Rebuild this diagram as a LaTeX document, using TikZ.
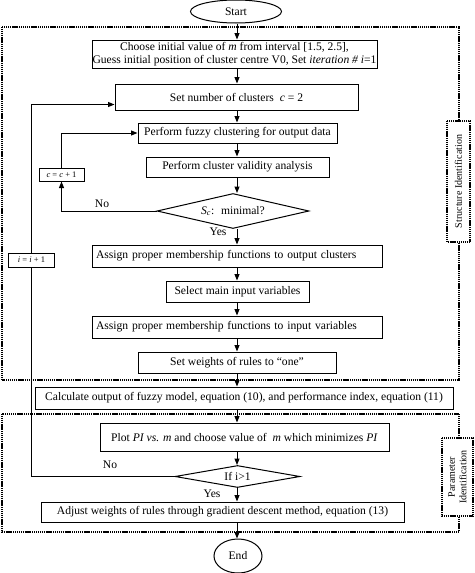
\documentclass[tikz,border=0pt]{standalone}
\usepackage{fontspec}
\setmainfont{Liberation Serif}
\usetikzlibrary{arrows.meta,shapes.geometric,calc}
\begin{document}
\begin{tikzpicture}[x=1pt,y=-1pt,
  every node/.style={font=\fontsize{11.6}{13}\selectfont, inner sep=0pt},
  box/.style={draw, rectangle, line width=1pt, align=center},
  lbox/.style={draw, rectangle, line width=1pt, align=left, text width=282, inner xsep=4pt},
  dec/.style={draw, diamond, line width=1pt},
  term/.style={draw, ellipse, line width=1pt},
  small/.style={font=\fontsize{8.5}{9}\selectfont},
  arr/.style={line width=1pt, -{Triangle[length=6.5pt,width=5pt]}},
  ln/.style={line width=1pt},
  dotbox/.style={line width=1.2pt, dash pattern=on 1.2pt off 0.7pt},
  lab/.style={font=\fontsize{10}{11.5}\selectfont}]
\useasboundingbox (0,0) rectangle (474,573);
\fill[white] (0,0) rectangle (474,573);
\coordinate (col) at (237,0);
% dotted group boxes
\draw[dotbox] (2,27) rectangle (459,380);
\draw[dotbox] (2,414) rectangle (459,532);
\node[dotbox, draw, fill=white, minimum width=121, minimum height=23, rotate=90, lab] (sid) at (458.5,181.5) {Structure Identification};
\node[dotbox, draw, fill=white, minimum width=78, minimum height=31, rotate=90, lab, align=center] (pid) at (457.5,477) {Parameter\\Identification};
% nodes
\node[term, minimum width=91, minimum height=23] (start) at (236,11.5) {Start};
\node[box, minimum width=285, minimum height=28] (b1) at (234.5,54) {Choose initial value of \textit{m} from interval [1.5, 2.5],\\Guess initial position of cluster centre V0, Set \textit{iteration \# i}=1};
\node[box, minimum width=243, minimum height=26] (b2) at (236.5,97) {Set number of clusters \ \textit{c} = 2};
\node[box, minimum width=199, minimum height=20] (b3) at (237.5,133) {Perform fuzzy clustering for output data};
\node[box, minimum width=183, minimum height=20] (b4) at (237.5,167) {Perform cluster validity analysis};
\node[dec, minimum width=152, minimum height=35, aspect=4.3] (d1) at (233,211) {\textit{S}\textsubscript{\textit{c}}: \ minimal?};
\node[lbox, minimum height=22] (b5) at (237,256) {Assign proper membership functions to output clusters};
\node[box, minimum width=143, minimum height=21] (b6) at (237.5,291.5) {Select main input variables};
\node[lbox, minimum height=22] (b7) at (237,327) {Assign proper membership functions to input variables};
\node[box, minimum width=198, minimum height=21] (b8) at (237,362.5) {Set weights of rules to “one”};
\node[box, minimum width=418, minimum height=22] (b9) at (244,398) {Calculate output of fuzzy model, equation (10), and performance index, equation (11)};
\node[box, minimum width=289, minimum height=28] (b10) at (244.5,437) {Plot \textit{PI vs.} \textit{m} and choose value of \ \textit{m} which minimizes \textit{PI}};
\node[dec, minimum width=125, minimum height=22, aspect=5.7] (d2) at (237.5,476.5) {If i\textgreater1};
\node[box, minimum width=363, minimum height=20] (b11) at (222.5,512) {Adjust weights of rules through gradient descent method, equation (13)};
\node[term, minimum width=48, minimum height=34] (end) at (238,556) {End};
\node[box, small, minimum width=45, minimum height=13] (cc) at (61.5,174.5) {\textit{c} = \textit{c} + 1};
\node[box, small, minimum width=46, minimum height=14] (ii) at (31.5,260) {\textit{i} = \textit{i} + 1};
% main column
\draw[arr] (start.south -| col) -- (b1.north -| col);
\draw[arr] (b1.south -| col) -- (b2.north -| col);
\draw[arr] (b2.south -| col) -- (b3.north -| col);
\draw[arr] (b3.south -| col) -- (b4.north -| col);
\draw[arr] (b4.south -| col) -- (d1.north -| col);
\draw[arr] (d1.south -| col) -- (b5.north -| col);
\draw[arr] (b5.south -| col) -- (b6.north -| col);
\draw[arr] (b6.south -| col) -- (b7.north -| col);
\draw[arr] (b7.south -| col) -- (b8.north -| col);
\draw[arr] (b8.south -| col) -- (b9.north -| col);
\draw[arr] (b9.south -| col) -- (b10.north -| col);
\draw[arr] (b10.south -| col) -- (d2.north -| col);
\draw[arr] (d2.south -| col) -- (b11.north -| col);
\draw[arr] (b11.south -| col) -- (end.north -| col);
% loops
\draw[arr] (d1.west) -| (cc.south);
\draw[arr] (cc.north) |- (b3.west);
\coordinate (e2) at ($(b2.south west)+(0,-6)$);
\draw[ln] (d2.west) -| (ii.south);
\draw[arr] (ii.north) |- (e2);
% labels
\node at (102,204) {No};
\node at (218,232) {Yes};
\node at (110,465) {No};
\node at (212,494) {Yes};
\end{tikzpicture}
\end{document}
